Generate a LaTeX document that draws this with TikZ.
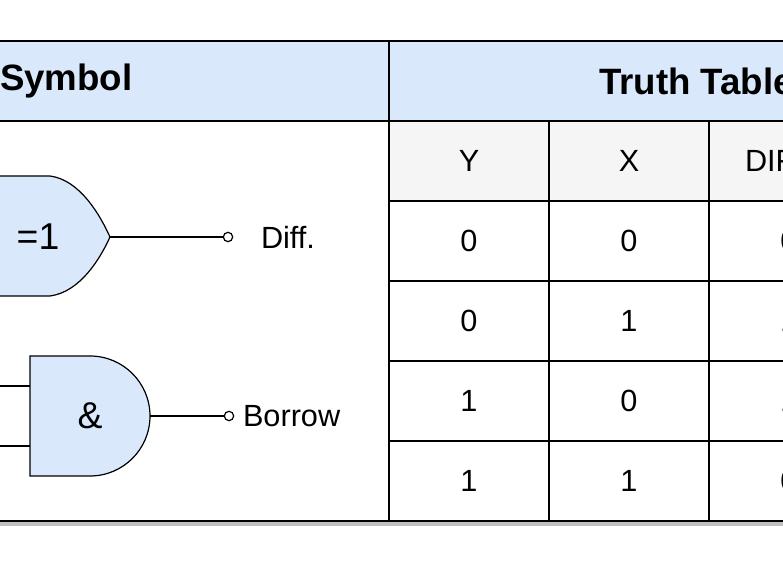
\documentclass[tikz,border=0pt]{standalone}
\usepackage{fontspec}
\setmainfont{Liberation Sans}
\usetikzlibrary{positioning}
\definecolor{headblue}{HTML}{DAE8FC}
\definecolor{subgray}{HTML}{F5F5F5}
\tikzset{
	cell/.style={font=\fontsize{23}{27}\selectfont},
	head/.style={font=\fontsize{27.5}{32}\selectfont\bfseries},
	gatetxt/.style={font=\fontsize{28}{32}\selectfont},
	gate/.style={draw,fill=headblue,line width=0.9pt},
	pin/.style={draw,circle,fill=white,inner sep=0pt,minimum size=7pt,line width=0.9pt},
}
\begin{document}
\begin{tikzpicture}[x=0.75pt,y=-0.75pt,line width=0.9pt]
	\useasboundingbox (0,0) rectangle (783,570);
	\clip (0,0) rectangle (783,570);
	% table
	\fill[headblue] (-5,41) rectangle (800,121);
	\fill[subgray] (389,121) rectangle (800,201);
	\fill[black!25] (-5,521) rectangle (800,526);
	\draw (-5,41) -- (800,41);
	\draw (-5,121) -- (800,121);
	\draw (-5,521) -- (800,521);
	\foreach \y in {201,281,361,441} \draw (389,\y) -- (800,\y);
	\draw (389,41) -- (389,521);
	\foreach \x in {549,709} \draw (\x,121) -- (\x,521);
	\node[head,anchor=west] (symhead) at (-5,81) {Symbol};
	\node[head,anchor=west] (tthead) at (594,81) {Truth Table};
	\node[cell] (hy) at (469,161) {Y};
	\node[cell] (hx) at (629,161) {X};
	\node[cell,anchor=west] (hd) at (740,161) {DIFF};
	\foreach \r/\a/\b/\c in {0/0/0/0,1/0/1/1,2/1/0/1,3/1/1/0}{
		\node[cell] (y\r) at (469,241+80*\r) {\a};
		\node[cell] (x\r) at (629,241+80*\r) {\b};
		\node[cell] (d\r) at (789,241+80*\r) {\c};
	}
	% xor gate
	\draw[gate] (-60,176) -- (50,176) .. controls (80,180) and (100,215) .. (110,237)
		.. controls (100,259) and (80,292) .. (50,296) -- (-60,296);
	\coordinate (xorout) at (110,237);
	\node[gatetxt] (xortxt) at (38,237) {=1};
	\node[pin] (diffpin) at (228,237) {};
	\node[cell,anchor=west] (difflbl) at (256,237) {Diff.};
	\draw (xorout) -- (diffpin);
	% and gate
	\draw[gate] (30,356) -- (90,356) arc (-90:90:60) -- (30,476) -- cycle;
	\coordinate (andout) at (150,416);
	\coordinate (andin1) at (30,386);
	\coordinate (andin2) at (30,446);
	\coordinate (in1) at (-5,386);
	\coordinate (in2) at (-5,446);
	\draw (in1) -- (andin1);
	\draw (in2) -- (andin2);
	\node[gatetxt] (andtxt) at (90,416) {\&};
	\node[pin] (borpin) at (229,416) {};
	\node[cell,anchor=west] (borlbl) at (238,416) {Borrow};
	\draw (andout) -- (borpin);
\end{tikzpicture}
\end{document}
